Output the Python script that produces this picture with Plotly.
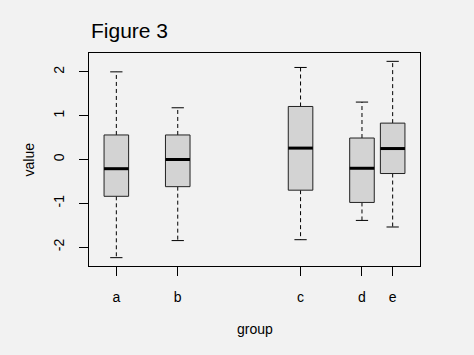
import plotly.graph_objects as go

groups = ["a", "b", "c", "d", "e"]
positions = [1, 2, 4, 5, 5.5]
lower = [-2.24, -1.85, -1.83, -1.39, -1.54]
q1 = [-0.84, -0.62, -0.70, -0.98, -0.32]
median = [-0.21, 0.00, 0.26, -0.20, 0.25]
q3 = [0.56, 0.56, 1.21, 0.49, 0.83]
upper = [2.00, 1.18, 2.10, 1.31, 2.24]
y_ticks = [-2, -1, 0, 1, 2]

half_box = 0.2
half_cap = 0.1

bx, by, wx, wy, cx, cy, mx, my = [], [], [], [], [], [], [], []
for p, lo, a, m, b, hi in zip(positions, lower, q1, median, q3, upper):
    bx += [p - half_box, p + half_box, p + half_box, p - half_box, p - half_box, None]
    by += [a, a, b, b, a, None]
    wx += [p, p, None, p, p, None]
    wy += [b, hi, None, a, lo, None]
    cx += [p - half_cap, p + half_cap, None, p - half_cap, p + half_cap, None]
    cy += [hi, hi, None, lo, lo, None]
    mx += [p - half_box, p + half_box, None]
    my += [m, m, None]

fig = go.Figure()
fig.add_trace(go.Scatter(x=wx, y=wy, mode="lines",
                         line=dict(color="black", width=1, dash="4px,3px"),
                         hoverinfo="skip", showlegend=False))
fig.add_trace(go.Scatter(x=cx, y=cy, mode="lines",
                         line=dict(color="black", width=1),
                         hoverinfo="skip", showlegend=False))
fig.add_trace(go.Scatter(x=bx, y=by, mode="lines", fill="toself",
                         fillcolor="#D3D3D3",
                         line=dict(color="#222222", width=1),
                         hoverinfo="skip", showlegend=False))
fig.add_trace(go.Scatter(x=mx, y=my, mode="lines",
                         line=dict(color="black", width=3),
                         hoverinfo="skip", showlegend=False))

font = dict(family="Liberation Sans, Arial, sans-serif", size=14, color="black")

fig.update_layout(
    width=474, height=355,
    margin=dict(l=89, r=54, t=53, b=89),
    paper_bgcolor="#F2F2F2", plot_bgcolor="#F2F2F2",
    font=font,
    showlegend=False,
    xaxis=dict(range=[0.555, 5.945], tickmode="array", tickvals=positions,
               ticktext=groups, ticks="outside", ticklen=9, tickwidth=1,
               tickcolor="black", showgrid=False, zeroline=False,
               showline=True, mirror=True, linecolor="black", linewidth=1,
               ticklabelstandoff=9, fixedrange=True),
    yaxis=dict(range=[-2.43, 2.43], tickmode="array", tickvals=y_ticks,
               ticktext=[str(v) for v in y_ticks], ticks="outside", ticklen=9,
               tickwidth=1, tickcolor="black", tickangle=-90,
               showgrid=False, zeroline=False,
               showline=True, mirror=True, linecolor="black", linewidth=1,
               ticklabelstandoff=9, fixedrange=True),
    annotations=[
        dict(text="Figure 3", xref="paper", yref="paper", x=0, y=1 + 23 / 213,
             xanchor="left", yanchor="middle", showarrow=False,
             font=dict(family="Liberation Sans, Arial, sans-serif", size=21, color="black")),
        dict(text="value", xref="paper", yref="paper", x=-61 / 331, y=0.5,
             xanchor="center", yanchor="middle", textangle=-90, showarrow=False,
             font=font),
        dict(text="group", xref="paper", yref="paper", x=(255 - 89) / 331, y=-63 / 213,
             xanchor="center", yanchor="middle", showarrow=False, font=font),
    ],
)

fig.write_html("out.html", config={"displayModeBar": False},
               post_script="document.body.style.margin='0';")
